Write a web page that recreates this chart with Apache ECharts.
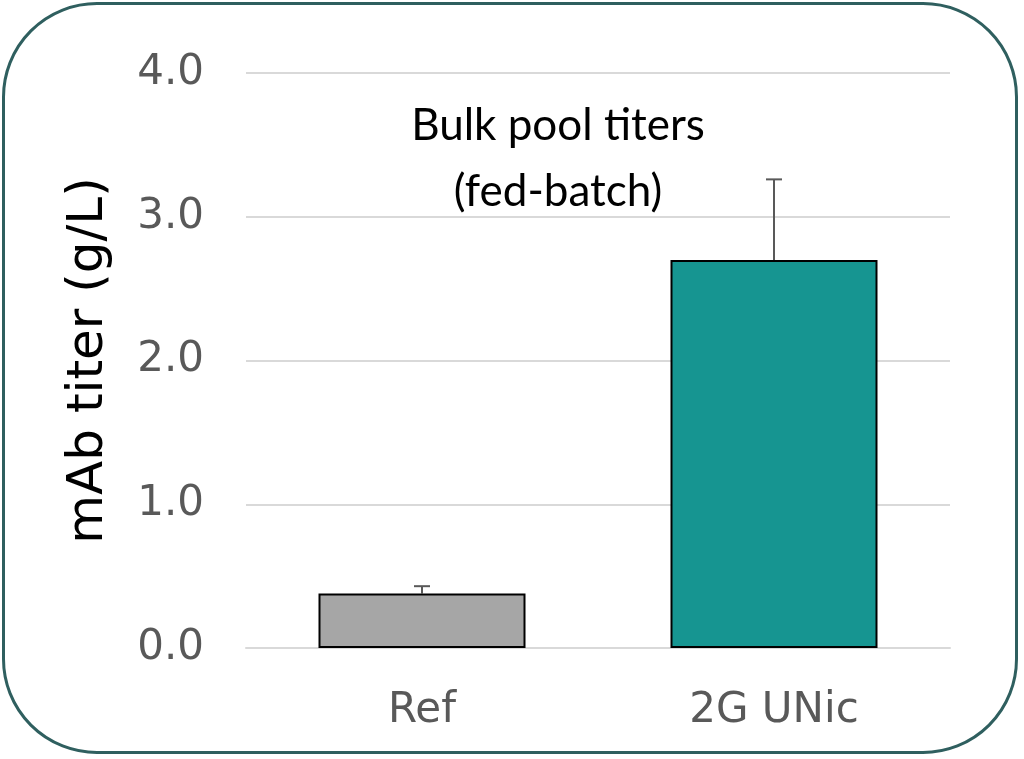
<!DOCTYPE html>
<html lang="en">
  <head>
    <meta charset="UTF-8" />
    <title>Bulk pool titers</title>
    <script src="https://cdn.jsdelivr.net/npm/echarts@6.0.0/dist/echarts.min.js"></script>
    <style>
      body { margin: 0; background: #fff; }
      #frame {
        position: absolute; left: 2px; top: 2px; width: 1016px; height: 752px;
        border: 3px solid #2f5f5f; border-radius: 95px; box-sizing: border-box;
      }
      #main { position: absolute; left: 0; top: 0; width: 1024px; height: 759px; }
    </style>
  </head>
  <body>
    <div id="frame"></div>
    <div id="main"></div>
    <script type="text/javascript">
      const categories = ["Ref", "2G UNic"];
      const titers = [0.38, 2.70];
      const errors = [0.05, 0.56];
      const barColors = ["#a6a6a6", "#169591"];

      let myChart = echarts.init(document.getElementById("main"));

      let options = {
        animation: false,
        title: {
          text: "Bulk pool titers\n(fed-batch)",
          left: 553, top: 88, textAlign: "center",
          textStyle: { fontFamily: "Lato", fontSize: 44, fontWeight: "normal", color: "#000", lineHeight: 66 }
        },
        grid: { left: 246, right: 74, top: 73, bottom: 111 },
        xAxis: {
          type: "category",
          data: categories,
          axisTick: { show: false },
          axisLine: { lineStyle: { color: "#d9d9d9", width: 2 } },
          axisLabel: { fontFamily: "DejaVu Sans", fontSize: 42, color: "#595959", margin: 42 }
        },
        yAxis: {
          type: "value",
          min: 0, max: 4, interval: 1,
          name: "mAb titer (g/L)",
          nameLocation: "middle",
          nameGap: 132,
          nameTextStyle: { fontFamily: "DejaVu Sans", fontSize: 50, color: "#000" },
          axisLabel: { fontFamily: "DejaVu Sans", fontSize: 42, color: "#595959", margin: 42,
            formatter: (v) => v.toFixed(1) },
          splitLine: { lineStyle: { color: "#d9d9d9", width: 2 } }
        },
        series: [
          {
            type: "bar",
            barWidth: 207,
            data: titers.map((v, i) => ({
              value: v,
              itemStyle: { color: barColors[i], borderColor: "#000", borderWidth: 2 }
            }))
          },
          {
            type: "custom",
            data: titers.map((v, i) => [i, v, v + errors[i]]),
            renderItem: (params, api) => {
              const low = api.coord([api.value(0), api.value(1)]);
              const high = api.coord([api.value(0), api.value(2)]);
              const style = { stroke: "#595959", lineWidth: 2 };
              return {
                type: "group",
                children: [
                  { type: "line", shape: { x1: low[0], y1: low[1], x2: high[0], y2: high[1] }, style },
                  { type: "line", shape: { x1: high[0] - 8, y1: high[1], x2: high[0] + 8, y2: high[1] }, style }
                ]
              };
            },
            z: 1
          }
        ]
      };

      myChart.setOption(options);
    </script>
  </body>
</html>
